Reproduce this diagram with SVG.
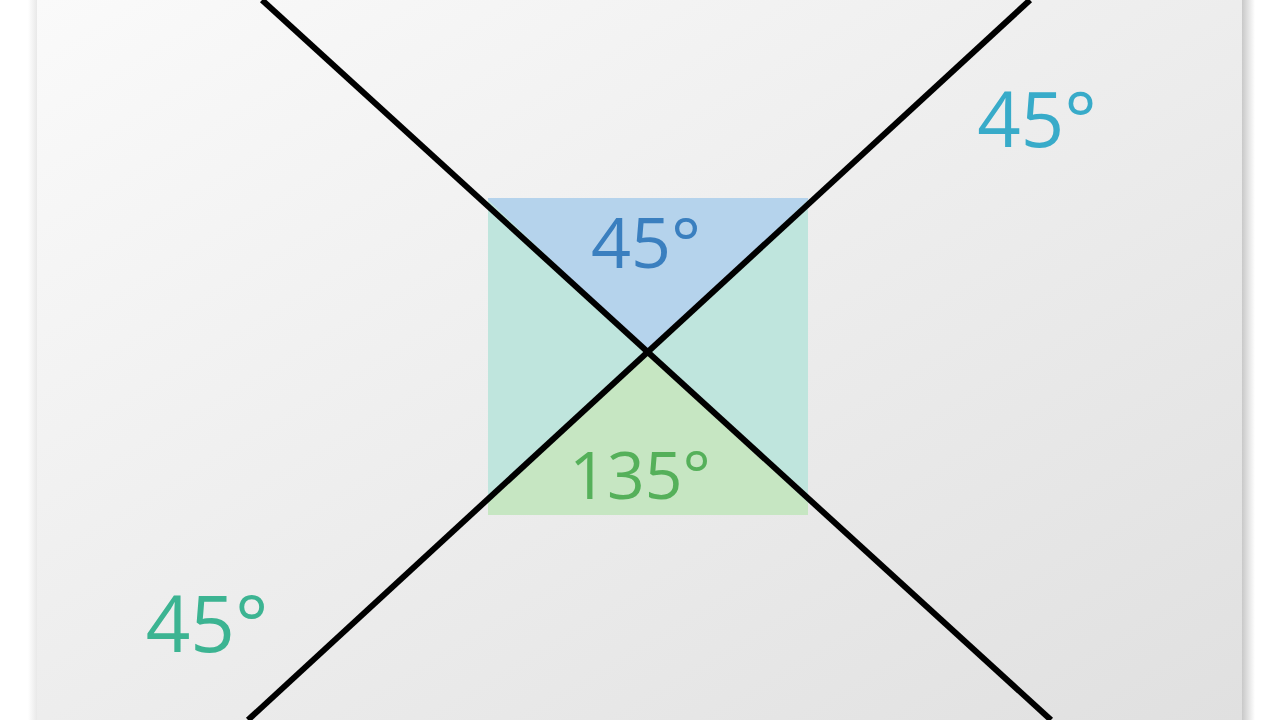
<svg xmlns="http://www.w3.org/2000/svg" width="1280" height="720" viewBox="0 0 1280 720">
  <defs>
    <linearGradient id="bg" x1="0" y1="0" x2="1" y2="1">
      <stop offset="0" stop-color="#fafafa"/>
      <stop offset="1" stop-color="#e0e0e0"/>
    </linearGradient>
    <linearGradient id="shL" x1="0" y1="0" x2="1" y2="0">
      <stop offset="0" stop-color="#ffffff"/>
      <stop offset="1" stop-color="#e6e6e6"/>
    </linearGradient>
    <linearGradient id="shR" x1="0" y1="0" x2="1" y2="0">
      <stop offset="0" stop-color="#c4c4c4"/>
      <stop offset="1" stop-color="#ffffff"/>
    </linearGradient>
    <clipPath id="sq">
      <rect x="488" y="198" width="320" height="317"/>
    </clipPath>
    <style>
      .lbl { font-family: "Open Sans", "Noto Sans", sans-serif; text-anchor: middle; }
      .ln { stroke: #000; stroke-width: 6; stroke-linecap: butt; fill: none; }
    </style>
  </defs>
  <rect x="0" y="0" width="1280" height="720" fill="#ffffff"/>
  <rect x="28" y="0" width="10" height="720" fill="url(#shL)"/>
  <rect x="1241" y="0" width="14" height="720" fill="url(#shR)"/>
  <rect id="panel" x="37" y="0" width="1205" height="720" fill="url(#bg)"/>
  <g id="angle-box" clip-path="url(#sq)">
    <rect x="488" y="198" width="320" height="317" fill="#bfe5dd"/>
    <polygon points="440,154 856,154 648,352" fill="#b5d3ec"/>
    <polygon points="648,352 856,548 440,548" fill="#c6e6c2"/>
  </g>
  <g id="connectors">
    <line class="ln" x1="262" y1="0" x2="1051" y2="720"/>
    <line class="ln" x1="1030" y1="0" x2="248" y2="720"/>
  </g>
  <g id="label-top"><text class="lbl" x="646" y="268" font-size="70" fill="#3a7fbf">45°</text></g>
  <g id="label-bottom"><text class="lbl" x="640" y="499" font-size="66" fill="#55b05a">135°</text></g>
  <g id="label-topright"><text class="lbl" x="1037" y="147" font-size="76" fill="#38abc9">45°</text></g>
  <g id="label-bottomleft"><text class="lbl" x="207" y="652" font-size="78" fill="#3cb492">45°</text></g>
</svg>
